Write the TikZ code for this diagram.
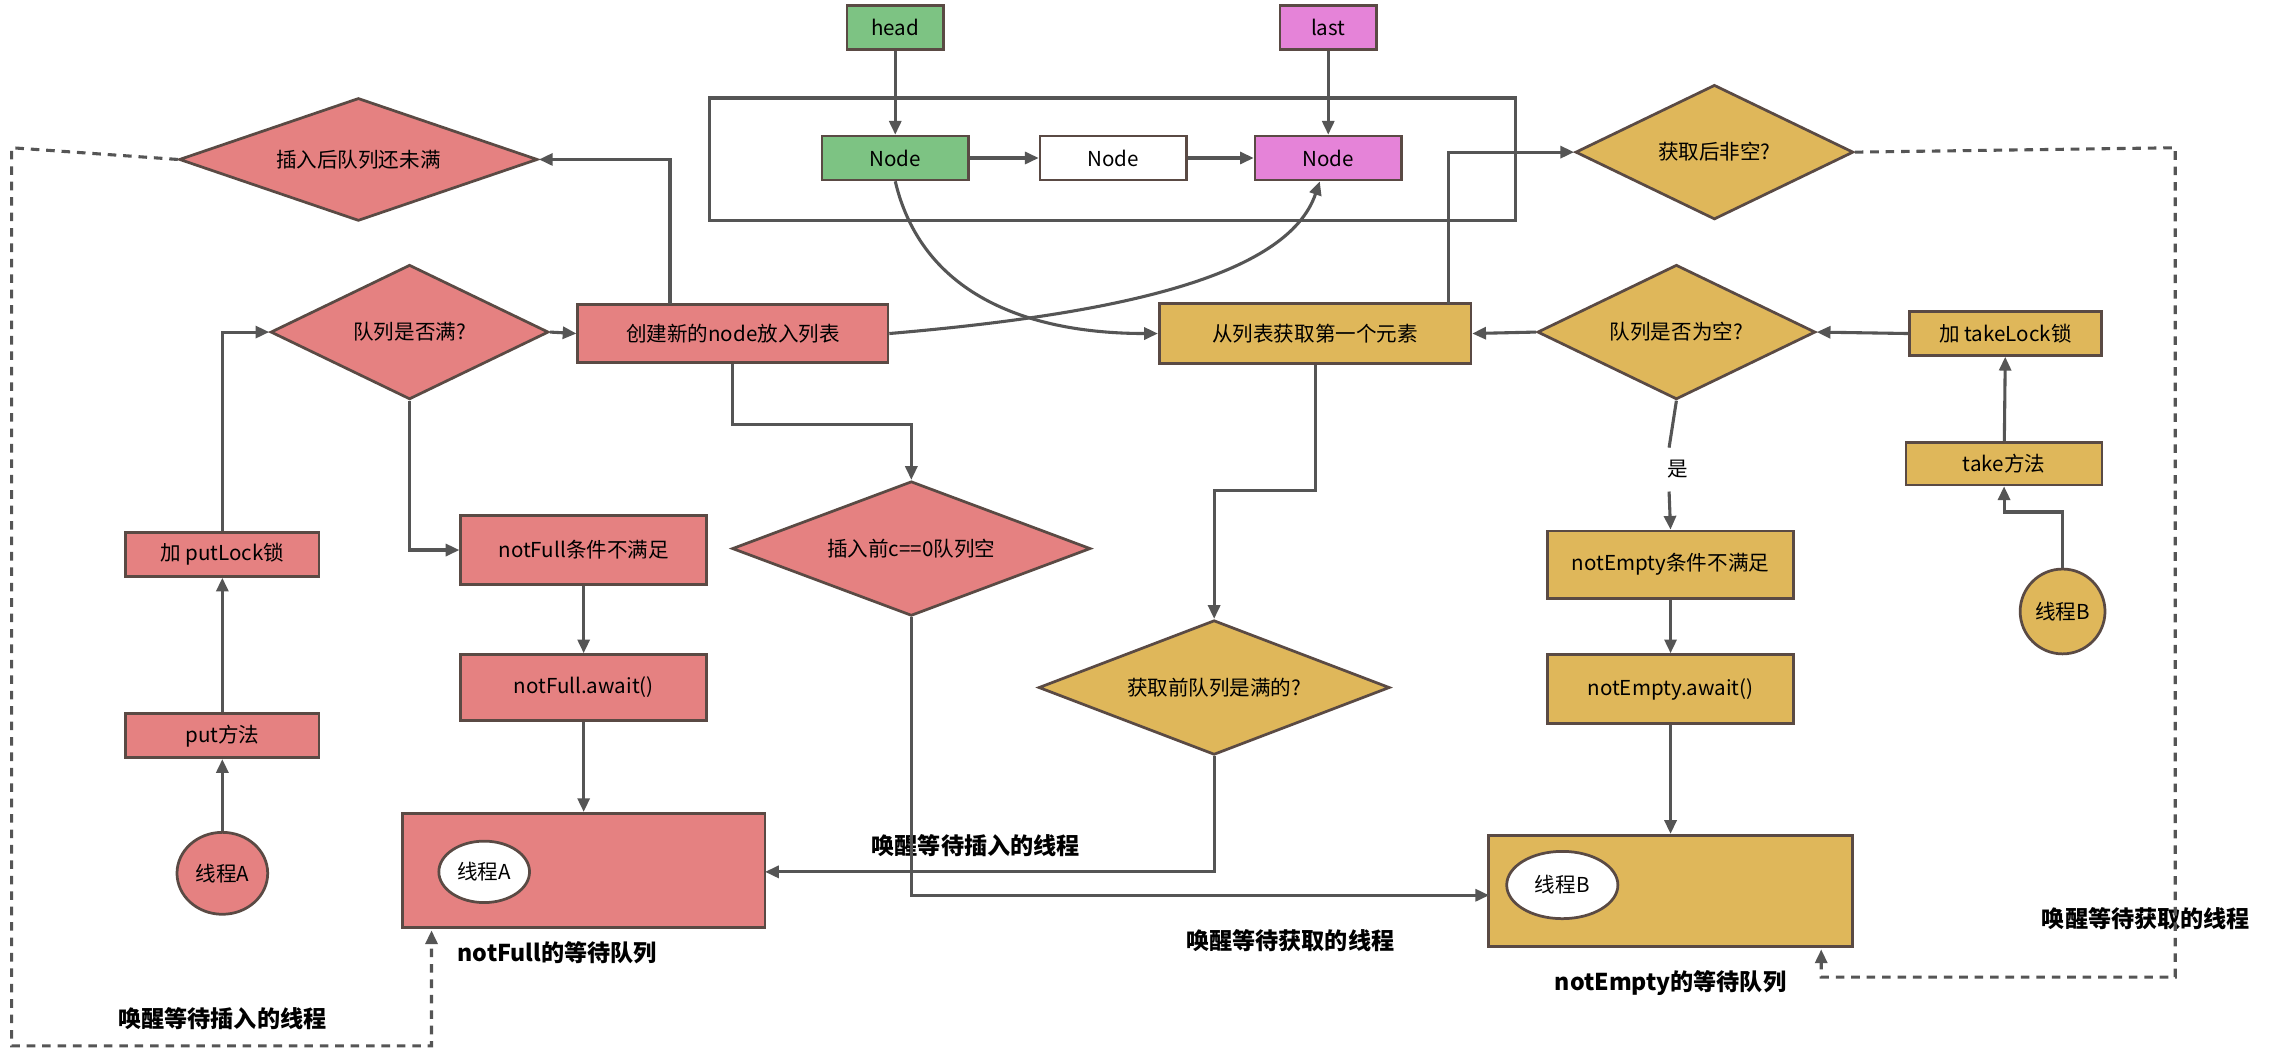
\documentclass[tikz,border=0pt]{standalone}
\usepackage{fontspec}
\setmainfont{Noto Sans CJK SC}
\usetikzlibrary{shapes.geometric,arrows.meta}
\definecolor{rd}{HTML}{E58181}
\definecolor{gd}{HTML}{DFB75A}
\definecolor{gr}{HTML}{7DC383}
\definecolor{pk}{HTML}{E583D8}
\definecolor{ln}{HTML}{555555}
\definecolor{bd}{HTML}{5A4A44}
\begin{document}
\begin{tikzpicture}[x=0.03cm,y=-0.03cm,
  font=\fontsize{12}{14}\selectfont,
  box/.style={draw=bd,line width=1.6pt,rectangle,inner sep=1pt},
  rbox/.style={box,fill=rd},
  gbox/.style={box,fill=gd},
  dia/.style={draw=bd,line width=1.6pt,diamond,shape aspect=2.5,inner sep=0pt},
  ell/.style={draw=bd,line width=1.6pt,ellipse,inner sep=0pt},
  con/.style={draw=ln,line width=1.8pt,-{Triangle[length=8pt,width=7pt]}},
  dcon/.style={con,dashed,dash pattern=on 5pt off 4pt},
  lab/.style={font=\fontsize{13.5}{15}\selectfont\bfseries}]
\useasboundingbox[fill=white] (0,0) rectangle (1560,717);
% top list
\draw[draw=ln,line width=1.8pt] (485,67) rectangle (1036,151);
\node[box,fill=gr,minimum width=1.98cm,minimum height=0.9cm] (head) at (612,19) {head};
\node[box,fill=pk,minimum width=1.98cm,minimum height=0.9cm] (last) at (908,19) {last};
\node[box,fill=gr,minimum width=3cm,minimum height=0.9cm] (n1) at (612,108) {Node};
\node[box,fill=white,minimum width=3cm,minimum height=0.9cm] (n2) at (761,108) {Node};
\node[box,fill=pk,minimum width=3cm,minimum height=0.9cm] (n3) at (908,108) {Node};
% left red part
\node[dia,fill=rd,minimum width=7.35cm,minimum height=2.52cm] (d1) at (245,109) {插入后队列还未满};
\node[dia,fill=rd,minimum width=5.7cm,minimum height=2.76cm] (d2) at (280,227) {队列是否满?};
\node[rbox,minimum width=6.36cm,minimum height=1.2cm] (cr) at (501,228) {创建新的node放入列表};
\node[dia,fill=rd,minimum width=7.35cm,minimum height=2.76cm] (d3) at (623,375) {插入前c==0队列空};
\node[rbox,minimum width=5.04cm,minimum height=1.41cm] (nf1) at (399,376) {notFull条件不满足};
\node[rbox,minimum width=5.04cm,minimum height=1.35cm] (nf2) at (399,470) {notFull.await()};
\node[rbox,minimum width=7.44cm,minimum height=2.34cm] (qa) at (399,595) {};
\node[ell,fill=white,minimum width=1.86cm,minimum height=1.26cm] (ta2) at (331,596) {线程A};
\node[lab] (qal) at (381,651) {notFull的等待队列};
\node[rbox,minimum width=3.96cm,minimum height=0.9cm] (pl) at (152,379) {加 putLock锁};
\node[rbox,minimum width=3.96cm,minimum height=0.9cm] (pm) at (152,503) {put方法};
\node[ell,fill=rd,minimum width=1.86cm,minimum height=1.68cm] (ta) at (152,597) {线程A};
% right gold part
\node[gbox,minimum width=6.39cm,minimum height=1.23cm] (fq) at (899,228) {从列表获取第一个元素};
\node[dia,fill=gd,minimum width=5.7cm,minimum height=2.76cm] (d4) at (1146,227) {队列是否为空?};
\node[dia,fill=gd,minimum width=5.7cm,minimum height=2.76cm] (d5) at (1172,104) {获取后非空?};
\node[dia,fill=gd,minimum width=7.2cm,minimum height=2.76cm] (d6) at (830,470) {获取前队列是满的?};
\node[gbox,minimum width=3.93cm,minimum height=0.9cm] (tl) at (1371,228) {加 takeLock锁};
\node[gbox,minimum width=4.02cm,minimum height=0.87cm] (tm) at (1370,317) {take方法};
\node[ell,fill=gd,minimum width=1.74cm,minimum height=1.74cm] (tb) at (1410,418) {线程B};
\node[gbox,minimum width=5.04cm,minimum height=1.38cm] (ne1) at (1142,386) {notEmpty条件不满足};
\node[gbox,minimum width=5.04cm,minimum height=1.41cm] (ne2) at (1142,471) {notEmpty.await()};
\node[gbox,minimum width=7.47cm,minimum height=2.28cm] (qb) at (1142,609) {};
\node[ell,fill=white,minimum width=2.28cm,minimum height=1.38cm] (tb2) at (1068,605) {线程B};
\node[lab] (qbl) at (1142,672) {notEmpty的等待队列};
% labels
\node[lab] (w1) at (667,578) {唤醒等待插入的线程};
\node[lab] (w2) at (882,643) {唤醒等待获取的线程};
\node[lab] (w3) at (1467,628) {唤醒等待获取的线程};
\node[lab] (w4) at (152,696) {唤醒等待插入的线程};
% connectors top
\draw[con] (head) -- (n1);
\draw[con] (last) -- (n3);
\draw[con] (n1) -- (n2);
\draw[con] (n2) -- (n3);
% left
\draw[con] (ta) -- (pm);
\draw[con] (pm) -- (pl);
\draw[con] (pl.north) |- (d2.west);
\draw[con] (d2.east) -- (cr.west);
\draw[con] (d2.south) |- (nf1.west);
\draw[con] (nf1) -- (nf2);
\draw[con] (nf2) -- (qa);
\coordinate (c1) at (458,208);
\draw[con] (c1) |- (d1.east);
\draw[con] (cr.east) .. controls (760,215) and (880,190) .. (n3.-110);
\draw[con] (cr.south) |- (623,290) -- (d3.north);
\draw[con] (d3.south) |- (1018,612);
\draw[con] (n1.south) .. controls (630,200) and (700,228) .. (fq.west);
% right
\draw[con] (fq.south) |- (830,335) -- (d6.north);
\draw[con] (d6.south) |- (523,596);
\coordinate (c2) at (990,208);
\draw[con] (c2) |- (d5.west);
\draw[con] (d4.west) -- (fq.east);
\draw[draw=ln,line width=1.8pt] (d4.south) -- (1141,306);
\node (yes) at (1147,321) {是};
\draw[con] (1141,336) -- (ne1.north);
\draw[con] (tl.west) -- (d4.east);
\draw[con] (tm) -- (tl);
\draw[con] (tb.north) |- (1370,350) -- (tm.south);
\draw[con] (ne1) -- (ne2);
\draw[con] (ne2) -- (qb);
% dashed
\coordinate (e1) at (1245,649);
\draw[dcon] (d5.east) -- (1487,101) |- (1245,668) -- (e1);
\coordinate (e2) at (295,636);
\draw[dcon] (d1.west) -- (8,101) |- (295,715) -- (e2);
\end{tikzpicture}
\end{document}
